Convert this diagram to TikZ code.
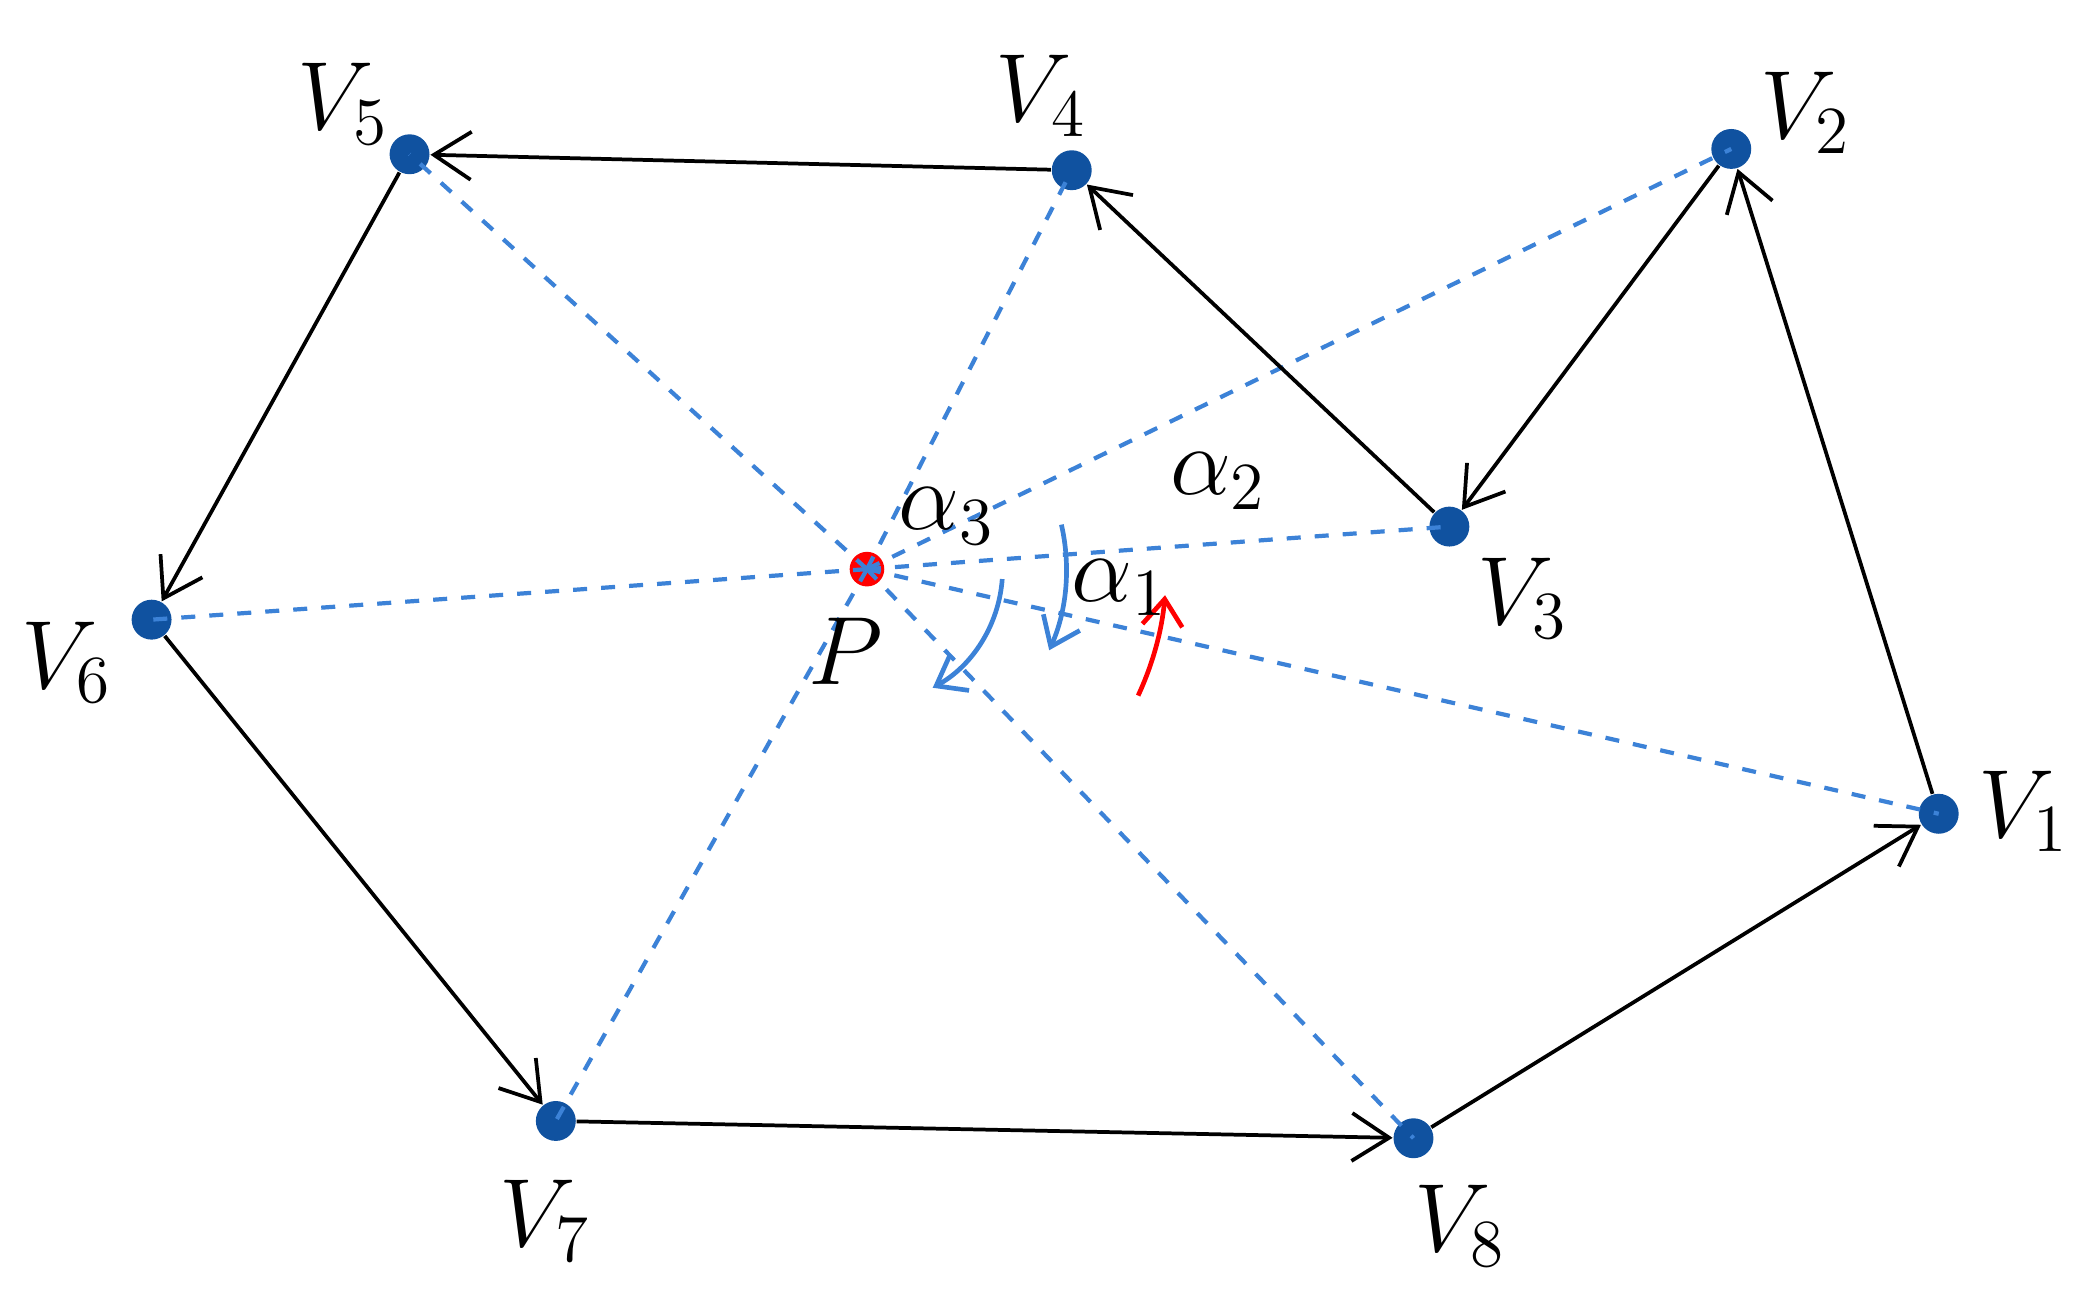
\documentclass[tikz,border=0pt]{standalone}
\usetikzlibrary{arrows.meta}
\definecolor{vblue}{RGB}{16,82,160}
\definecolor{dblue}{RGB}{60,130,215}
\tikzset{
  vert/.style={circle,fill=vblue,inner sep=0pt,minimum size=0.3cm},
  edge/.style={-{Straight Barb[length=0.28cm,width=0.36cm]},line width=0.8pt},
  ray/.style={dashed,dblue,line width=0.9pt},
  lab/.style={font=\fontsize{21}{25}\selectfont},
  ang/.style={-{Straight Barb[length=0.2cm,width=0.3cm]},line width=1pt}
}
\begin{document}
\begin{tikzpicture}[x=0.01cm,y=-0.01cm]
  \useasboundingbox (0,0) rectangle (1568,978);
  \foreach \n/\x/\y in {1/1458/612, 2/1302/112, 3/1090/396, 4/806/128,
                        5/308/116, 6/114/466, 7/418/843, 8/1063/856}
  {
    \node[vert] (v\n) at (\x,\y) {};
  }
  \node[circle,fill=red,inner sep=0pt,minimum size=0.26cm] (p) at (652,428) {};
  % dashed rays
  \foreach \n in {1,...,8}
  {
    \draw[ray] (p.center) -- (v\n.center);
  }
  % polygon edges
  \foreach \a/\b in {1/2, 2/3, 3/4, 4/5, 5/6, 6/7, 7/8, 8/1}
  {
    \draw[edge] (v\a) -- (v\b);
  }
  % angles
  \draw[ang,dblue] ([shift={(-12.9:150)}]p.center) arc[start angle=-12.9,end angle=24,radius=150];
  \draw[ang,dblue] ([shift={(4.2:102)}]p.center) arc[start angle=4.2,end angle=61,radius=102];
  \draw[ang,red] ([shift={(25:225)}]p.center) arc[start angle=25,end angle=5,radius=225];
  % labels
  \node[lab] (l1) at (1522,610) {$V_1$};
  \node[lab] (l2) at (1358,85) {$V_2$};
  \node[lab] (l3) at (1145,450) {$V_3$};
  \node[lab] (l4) at (783,72) {$V_4$};
  \node[lab] (l5) at (258,78) {$V_5$};
  \node[lab] (l6) at (50,498) {$V_6$};
  \node[lab] (l7) at (410,918) {$V_7$};
  \node[lab] (l8) at (1098,922) {$V_8$};
  \node[lab] (lp) at (636,490) {$P$};
  \node[lab] (a1) at (842,442) {$\alpha_1$};
  \node[lab] (a2) at (916,362) {$\alpha_2$};
  \node[lab] (a3) at (712,388) {$\alpha_3$};
\end{tikzpicture}
\end{document}
